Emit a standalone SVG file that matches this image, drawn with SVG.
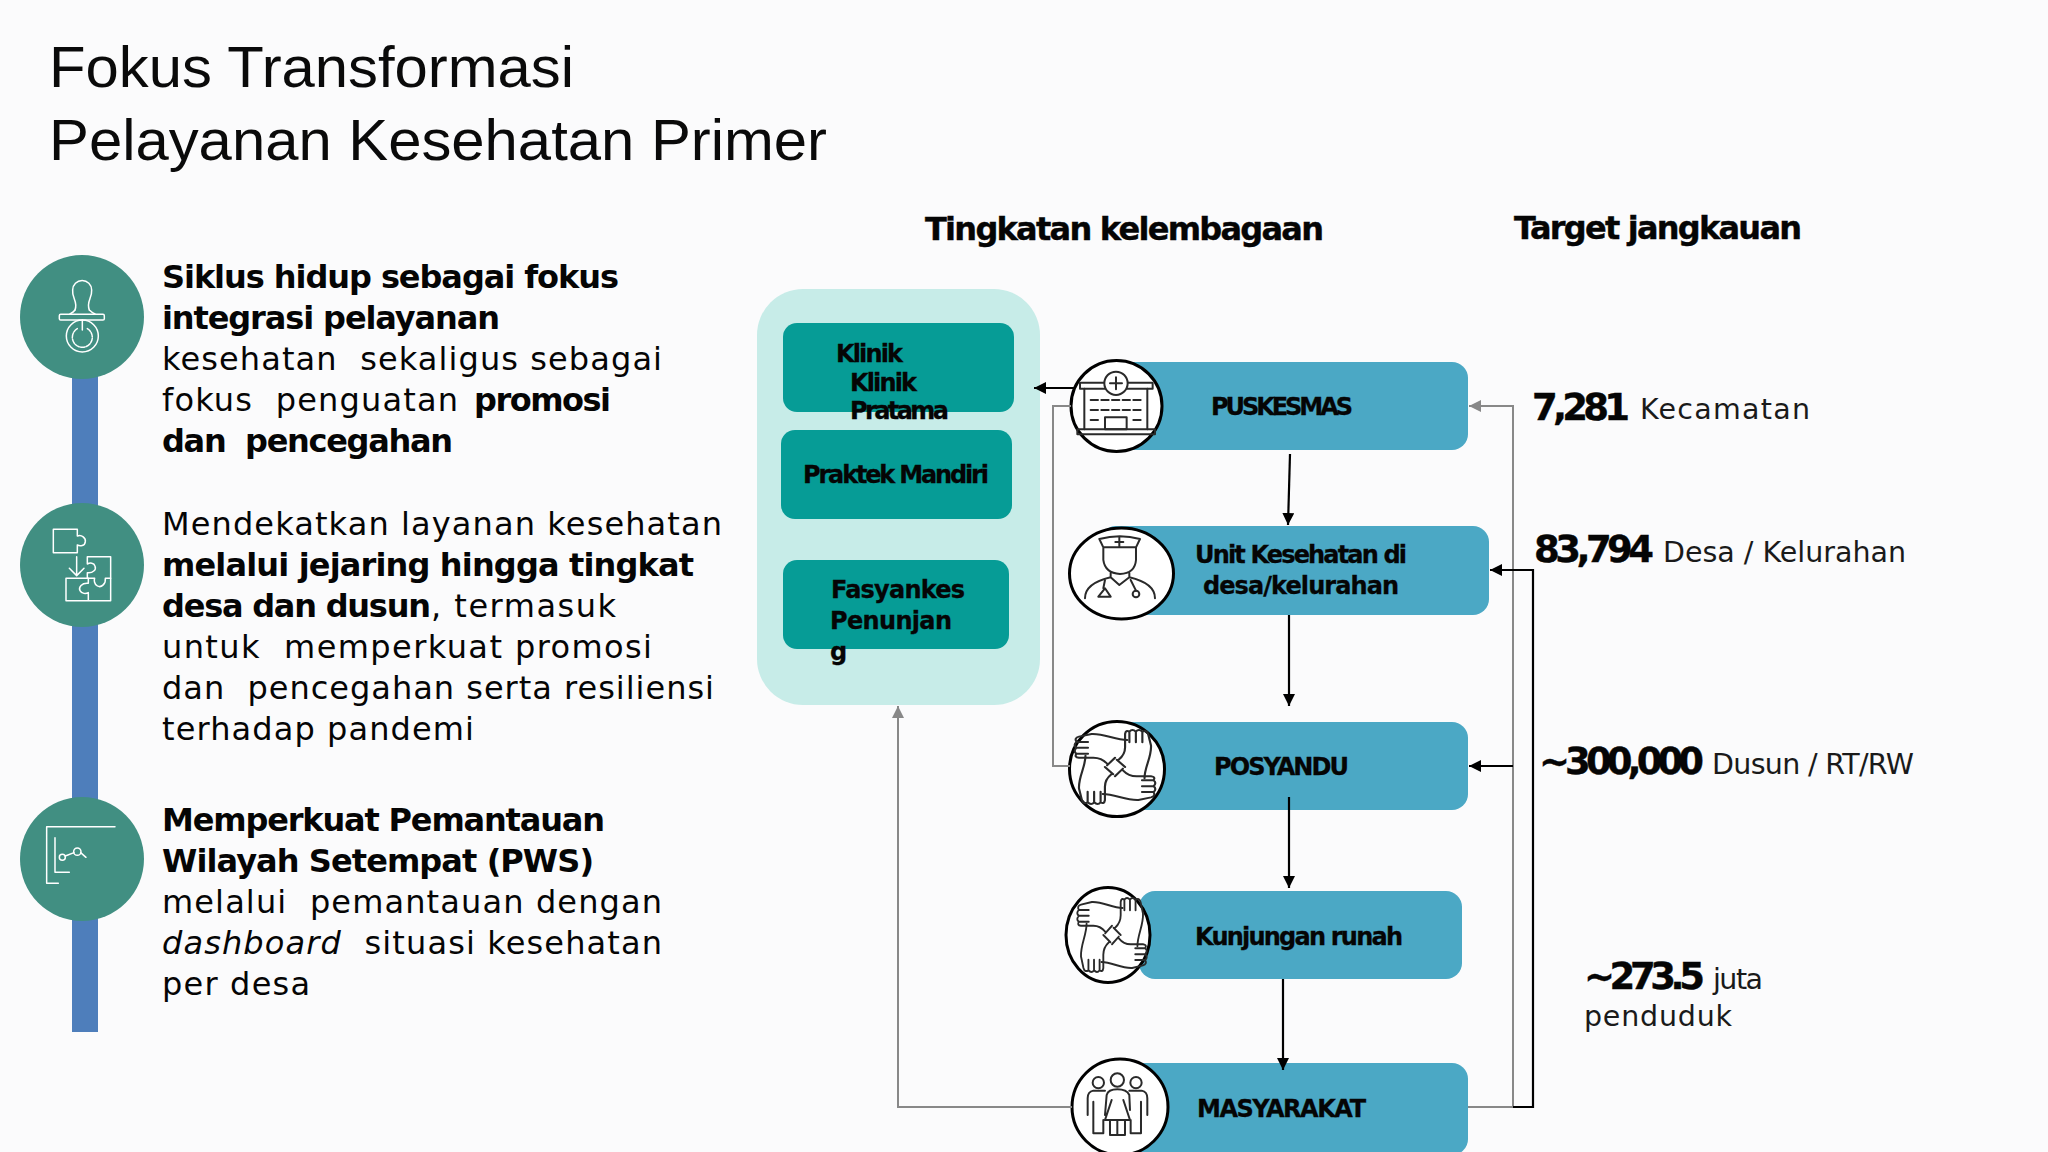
<svg xmlns="http://www.w3.org/2000/svg" width="2048" height="1152" viewBox="0 0 2048 1152">
<style>
text{font-family:"DejaVu Sans",Verdana,sans-serif;fill:#050505;white-space:pre}
.t{font-family:"Liberation Sans",Arial,sans-serif;font-size:58px;fill:#0a0a0a}
.b{font-size:32px}
.bb{font-weight:700}
.h{font-size:32px;font-weight:700;stroke:#050505;stroke-width:.4}
.n{font-size:24px;font-weight:700;stroke:#050505;stroke-width:.3}
.num{font-size:37px;font-weight:700;stroke:#050505;stroke-width:.4}
.u{font-size:28.500px;fill:#1a1a1a}
.gc{fill:#418F82}
.bar{fill:#4E7EBB}
.bx{fill:#4BA8C5}
.tl{fill:#069C96}
.ic{fill:none;stroke:#fff;stroke-width:4.500;stroke-linecap:round;stroke-linejoin:round}
.ci{fill:#fff;stroke:#000;stroke-width:3}
.dk{fill:none;stroke:#2a2a2a;stroke-width:6;stroke-linecap:round;stroke-linejoin:round}
.k{fill:none;stroke:#000;stroke-width:2.200}
.g{fill:none;stroke:#888;stroke-width:2}
</style>
<defs>
<marker id="ak" markerWidth="13" markerHeight="13" refX="12" refY="6" orient="auto" markerUnits="userSpaceOnUse"><path d="M0,0L12,6L0,12Z" fill="#000"/></marker>
<marker id="ag" markerWidth="13" markerHeight="13" refX="12" refY="6" orient="auto" markerUnits="userSpaceOnUse"><path d="M0,0L12,6L0,12Z" fill="#888"/></marker>
<g id="arm"><path d="M34,-82C0,-82-30,-102-65,-100L-100,-92Q-114,-88-107,-76L-75,-76M-107,-76Q-117,-66-107,-58L-75,-58M-107,-58Q-117,-48-107,-40L-75,-40M-107,-40Q-114,-30-100,-28L-60,-28C-45,-28-35,-25-22,-10M0,-28L-22,-5"/></g>
<g id="hands" class="dk"><use href="#arm"/><use href="#arm" transform="rotate(90)"/><use href="#arm" transform="rotate(180)"/><use href="#arm" transform="rotate(270)"/></g>
</defs>
<rect width="2048" height="1152" fill="#FBFBFC"/>
<text class="t" x="49" y="87" textLength="525" lengthAdjust="spacingAndGlyphs">Fokus Transformasi</text>
<text class="t" x="49" y="160" textLength="778" lengthAdjust="spacingAndGlyphs">Pelayanan Kesehatan Primer</text>

<g id="timeline">
<rect class="bar" x="72" y="317" width="26" height="715"/>
<g id="step1"><circle class="gc" cx="82" cy="317" r="62"/>
<g transform="translate(0,230) scale(.3333)" class="ic"><path d="M225,240C235,215 215,205 218,180A28,28 0 0 1 275,180C277,205 258,215 268,240"/><rect x="178" y="253" width="135" height="17" rx="4"/><path d="M210,252Q222,245 225,240M268,240Q275,247 285,252M247,270V300"/><circle cx="247" cy="318" r="48"/><path d="M232,296A30,30 0 1 0 262,296" stroke-dasharray="14 4"/></g></g>
<g id="step2"><circle class="gc" cx="82" cy="565" r="62"/>
<g transform="translate(0,230) scale(.3333)" class="ic"><path d="M160,898H232V918C245,912 258,925 256,935C255,948 240,950 232,945V968H160Z"/><path d="M230,980V1035M208,1015L230,1037L252,1015"/><path d="M262,980H332V1045H316C318,1060 305,1075 292,1068C282,1062 282,1050 284,1045H262V1028C278,1030 290,1020 285,1008C282,998 270,998 262,1002Z"/><path d="M198,1045H265V1060C245,1058 235,1072 240,1082C245,1092 258,1092 265,1088V1112H198ZM265,1112H332V1045"/></g></g>
<g id="step3"><circle class="gc" cx="82" cy="859" r="62"/>
<g transform="translate(0,770) scale(.3333)" class="ic"><path d="M345,170H140V340H175M165,203V307H208"/><circle cx="187" cy="262" r="9"/><circle cx="232" cy="245" r="11"/><path d="M196,258L222,248M242,248L258,262"/></g></g>
</g>

<g id="text-left">
<text class="b bb" x="162" y="288" textLength="457">Siklus hidup sebagai fokus</text>
<text class="b bb" x="162" y="329" textLength="338">integrasi pelayanan</text>
<text class="b" x="162" y="370" textLength="500">kesehatan  sekaligus sebagai</text>
<text class="b" x="162" y="411" textLength="296">fokus  penguatan</text>
<text class="b bb" x="474" y="411" textLength="137">promosi</text>
<text class="b bb" x="162" y="452" textLength="291">dan  pencegahan</text>
<text class="b" x="162" y="535" textLength="560">Mendekatkan layanan kesehatan</text>
<text class="b bb" x="162" y="576" textLength="532">melalui jejaring hingga tingkat</text>
<text class="b bb" x="162" y="617" textLength="269">desa dan dusun</text>
<text class="b" x="431" y="617" textLength="185">, termasuk</text>
<text class="b" x="162" y="658" textLength="490">untuk  memperkuat promosi</text>
<text class="b" x="162" y="699" textLength="552">dan  pencegahan serta resiliensi</text>
<text class="b" x="162" y="740" textLength="312">terhadap pandemi</text>
<text class="b bb" x="162" y="831" textLength="443">Memperkuat Pemantauan</text>
<text class="b bb" x="162" y="872" textLength="432">Wilayah Setempat (PWS)</text>
<text class="b" x="162" y="913" textLength="500">melalui  pemantauan dengan</text>
<text class="b" x="162" y="954" textLength="500"><tspan font-style="italic">dashboard</tspan>  situasi kesehatan</text>
<text class="b" x="162" y="995" textLength="148">per desa</text>
</g>

<text class="h" x="925" y="240" textLength="399">Tingkatan kelembagaan</text>
<text class="h" x="1514" y="239" textLength="288">Target jangkauan</text>

<g id="fasilitas">
<rect x="757" y="289" width="283" height="416" rx="46" fill="#C7ECE8"/>
<g id="klinik"><rect class="tl" x="783" y="323" width="231" height="89" rx="14"/>
<text class="n" x="836" y="362" textLength="67">Klinik</text>
<text class="n" x="850" y="391" textLength="67">Klinik</text>
<text class="n" x="850" y="419" textLength="99">Pratama</text></g>
<g id="praktek"><rect class="tl" x="781" y="430" width="231" height="89" rx="14"/>
<text class="n" x="803" y="483" textLength="186">Praktek Mandiri</text></g>
<g id="fasyankes"><rect class="tl" x="783" y="560" width="226" height="89" rx="14"/>
<text class="n" x="831" y="598" textLength="134">Fasyankes</text>
<text class="n" x="830" y="629" textLength="122">Penunjan</text>
<text class="n" x="830" y="660">g</text></g>
</g>

<g id="puskesmas"><rect class="bx" x="1100" y="362" width="368" height="88" rx="16"/>
<circle class="ci" cx="1116.500" cy="406" r="45.500"/>
<g transform="translate(1040,340) scale(.3333)" class="dk"><rect x="120" y="128" width="218" height="18"/><circle cx="228" cy="130" r="35" fill="#fff"/><path d="M228,112V148M210,130H246M133,146V268M322,146V268"/><rect x="112" y="268" width="233" height="15"/><rect x="195" y="232" width="65" height="36"/><path d="M152,180H310M152,210H310M152,240H178M280,240H310" stroke-dasharray="22 10"/></g>
<text class="n" x="1211" y="415" textLength="142">PUSKESMAS</text></g>

<g id="unit"><rect class="bx" x="1100" y="526" width="389" height="89" rx="16"/>
<ellipse class="ci" cx="1121.500" cy="573.500" rx="52" ry="45.500"/>
<g transform="translate(1040,340) scale(.3333)" class="dk"><path d="M178,597Q240,580 300,597L288,622H190ZM238,594V618M226,606H250M190,625V660Q195,700 240,702Q285,700 288,660V622M212,695V712L238,735L268,712V695M135,775Q135,730 212,712M268,712Q345,730 345,775M195,720L190,745M272,720L288,752M175,770H212L195,745Z"/><circle cx="288" cy="762" r="10"/></g>
<text class="n" x="1195" y="563" textLength="212">Unit Kesehatan di</text>
<text class="n" x="1203" y="594" textLength="196">desa/kelurahan</text></g>

<g id="posyandu"><rect class="bx" x="1100" y="722" width="368" height="88" rx="16"/>
<circle class="ci" cx="1117" cy="769" r="47.500"/>
<use href="#hands" transform="translate(1115,767) scale(.36,.33)"/>
<text class="n" x="1214" y="775" textLength="135">POSYANDU</text></g>

<g id="kunjungan"><rect class="bx" x="1139" y="891" width="323" height="88" rx="16"/>
<ellipse class="ci" cx="1108" cy="935" rx="42" ry="47.500"/>
<use href="#hands" transform="translate(1112,935) scale(.31,.33)"/>
<text class="n" x="1195" y="945" textLength="208">Kunjungan runah</text></g>

<g id="masyarakat"><rect class="bx" x="1100" y="1063" width="368" height="92" rx="16"/>
<circle class="ci" cx="1120" cy="1107" r="48"/>
<g transform="translate(1040,700) scale(.3333)" class="dk"><circle cx="175" cy="1148" r="17"/><circle cx="232" cy="1140" r="20"/><circle cx="288" cy="1148" r="17"/><path d="M195,1172H160Q143,1175 143,1195V1245M160,1205V1300H190V1260M268,1172H305Q322,1175 322,1195V1245M303,1205V1300H272V1260M200,1185Q205,1168 232,1168Q260,1168 268,1185L270,1230M200,1185L195,1245M215,1200L195,1260H270L250,1200M210,1260V1305H255V1260M232,1260V1305"/></g>
<text class="n" x="1197" y="1117" textLength="169">MASYARAKAT</text></g>

<g id="connectors">
<path class="k" d="M1074,388H1034" marker-end="url(#ak)"/>
<path class="g" d="M1071,406H1053V766H1070"/>
<path class="k" d="M1290,454L1288,525" marker-end="url(#ak)"/>
<path class="k" d="M1289,615V706" marker-end="url(#ak)"/>
<path class="k" d="M1289,797V888" marker-end="url(#ak)"/>
<path class="k" d="M1283,979V1070" marker-end="url(#ak)"/>
<path class="g" d="M1468,1107H1513V406H1469" marker-end="url(#ag)"/>
<path class="k" d="M1513,1107H1533V570H1490" marker-end="url(#ak)"/>
<path class="k" d="M1513,766H1469" marker-end="url(#ak)"/>
<path class="g" d="M1072,1107H898V706" marker-end="url(#ag)"/>
</g>

<g id="target">
<text class="num" x="1532" y="420" textLength="98">7,281</text>
<text class="u" x="1640" y="419" textLength="170">Kecamatan</text>
<text class="num" x="1534" y="562" textLength="120">83,794</text>
<text class="u" x="1663" y="562" textLength="243">Desa / Kelurahan</text>
<text class="num" x="1539" y="774" textLength="165">~300,000</text>
<text class="u" x="1712" y="774" textLength="202">Dusun / RT/RW</text>
<text class="num" x="1584" y="989" textLength="121">~273.5</text>
<text class="u" x="1713" y="989" textLength="50">juta</text>
<text class="u" x="1584" y="1026" textLength="148">penduduk</text>
</g>
</svg>
